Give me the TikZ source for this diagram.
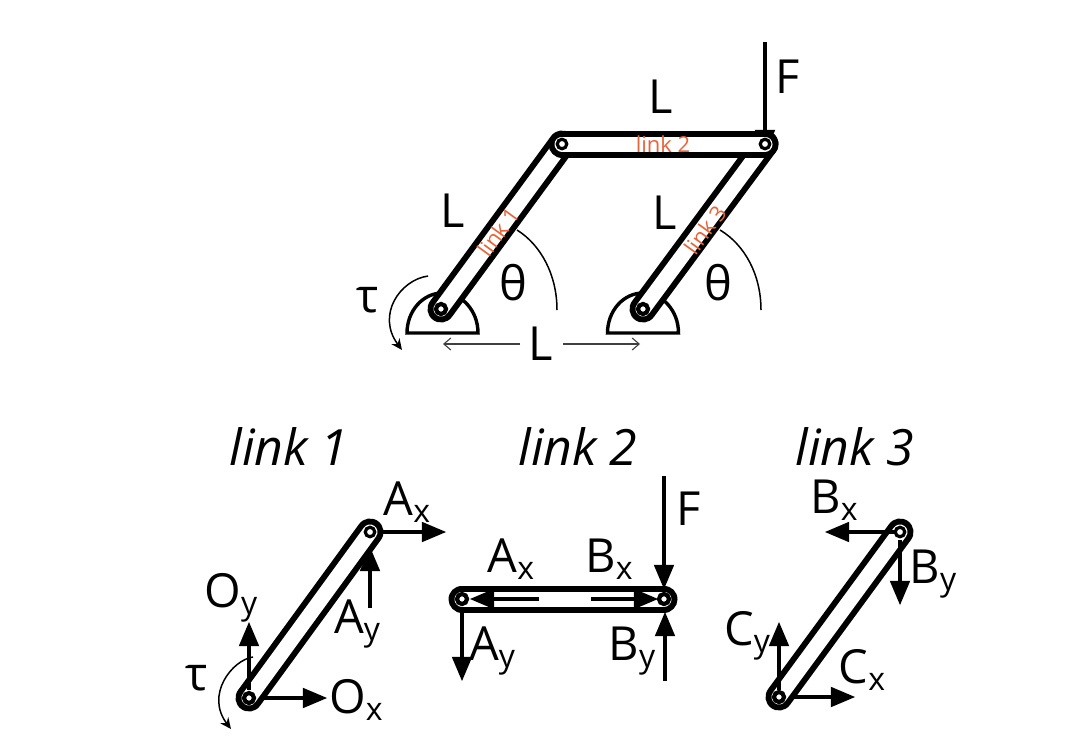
\documentclass[tikz,border=0pt]{standalone}
\usepackage{fontspec}
\setmainfont{Open Sans}
\usetikzlibrary{arrows,arrows.meta,%
                shapes,positioning}
\definecolor{linkorange}{RGB}{232,100,58}
\newcommand{\symsize}{\fontsize{47}{47}\selectfont}
\newcommand{\sublabel}[2]{#1{\fontsize{32}{32}\selectfont\raisebox{-7pt}{#2}}}
\tikzset{
  linkbar/.style={line width=6pt,double=white,double distance=15pt,line cap=round},
  pinring/.style={circle,draw=black,fill=white,line width=3.2pt,minimum size=9.5pt,inner sep=0pt},
  pinbig/.style={circle,draw=black,fill=white,line width=4.2pt,minimum size=10pt,inner sep=0pt},
  support/.style={draw=black,fill=white,line width=3.4pt},
  force/.style={line width=4.8pt,-triangle 45},
  thinarc/.style={line width=1.5pt,-{Stealth[length=11pt,width=10pt]}},
  dimline/.style={line width=1.1pt,draw=black!75,-{Straight Barb[length=7pt,width=12pt]}},
  anglearc/.style={line width=1.5pt},
  sym/.style={anchor=base,font=\symsize,inner sep=0pt},
  linkname/.style={text=linkorange,font=\fontsize{22}{22}\selectfont,inner sep=0pt},
  heading/.style={anchor=base,font=\fontsize{50}{50}\selectfont\itshape,inner sep=0pt}
}
\begin{document}
\begin{tikzpicture}[x=1pt,y=-1pt]
\useasboundingbox (0,0) rectangle (1074,750);
% assembled linkage
\coordinate (O) at (441,309);
\coordinate (A) at (562,144);
\coordinate (B) at (765,144);
\coordinate (C) at (643,309);
\coordinate (Ftop) at (765,42);
\coordinate (Fend) at (765,154);
\draw[force] (Ftop) -- (Fend);
\draw[support] (407,333) arc (180:360:35.5 and 40) -- cycle;
\draw[support] (607.5,333) arc (180:360:35.5 and 40) -- cycle;
\draw[linkbar] (O) -- (A);
\draw[linkbar] (C) -- (B);
\draw[linkbar] (A) -- (B);
\node[pinbig] (pinO) at (O) {};
\node[pinring] (pinA) at (A) {};
\node[pinring] (pinB) at (B) {};
\node[pinbig] (pinC) at (C) {};
\draw[anglearc] (557,310) .. controls (557,275) and (541,245) .. (517,230);
\draw[anglearc] (761,310) .. controls (761,275) and (745,245) .. (720,230);
\draw[thinarc] (428,276) .. controls (400,280) and (376,315) .. (402,350);
\node[sym] (lenAB) at (661,113) {L};
\node[sym] (lenOA) at (453,227) {L};
\node[sym] (lenCB) at (665,229) {L};
\node[sym] (lenOC) at (541,360) {L};
\node[sym] (forceF) at (788,93) {F};
\node[sym] (thetaO) at (513,300) {θ};
\node[sym] (thetaC) at (718,300) {θ};
\node[sym] (tauO) at (368,312) {τ};
\coordinate (dimL) at (520,344);
\coordinate (dimLe) at (443,344);
\coordinate (dimR) at (563,344);
\coordinate (dimRe) at (640,344);
\draw[dimline] (dimL) -- (dimLe);
\draw[dimline] (dimR) -- (dimRe);
\node[linkname,rotate=54] (nameA) at (498,232) {link 1};
\node[linkname] (nameB) at (663,144) {link 2};
\node[linkname,rotate=54] (nameC) at (705,230) {link 3};

% free body of link 1
\coordinate (O1) at (249,698);
\coordinate (A1) at (370,532);
\draw[linkbar] (O1) -- (A1);
\node[pinbig] (pinO1) at (O1) {};
\node[pinring] (pinA1) at (A1) {};
\coordinate (Ax1s) at (382,532);
\coordinate (Ax1e) at (446,532);
\coordinate (Ay1s) at (370,608);
\coordinate (Ay1e) at (370,547);
\coordinate (Oy1s) at (249,690);
\coordinate (Oy1e) at (249,622);
\coordinate (Ox1s) at (262,698);
\coordinate (Ox1e) at (327,698);
\draw[force] (Ax1s) -- (Ax1e);
\draw[force] (Ay1s) -- (Ay1e);
\draw[force] (Oy1s) -- (Oy1e);
\draw[force] (Ox1s) -- (Ox1e);
\draw[thinarc] (253,657) .. controls (232,660) and (205,695) .. (231,729);
\node[sym] (tau1) at (197,690) {τ};
\node[sym] (lblAx1) at (407,515) {\sublabel{A}{x}};
\node[sym] (lblAy1) at (357,633) {\sublabel{A}{y}};
\node[sym] (lblOy1) at (231,607) {\sublabel{O}{y}};
\node[sym] (lblOx1) at (356,713) {\sublabel{O}{x}};
\node[heading] (head1) at (289,465) {link 1};

% free body of link 2
\coordinate (A2) at (462,599);
\coordinate (B2) at (664,599);
\draw[linkbar] (A2) -- (B2);
\node[pinbig] (pinA2) at (A2) {};
\node[pinbig] (pinB2) at (B2) {};
\coordinate (Ax2s) at (539,599);
\coordinate (Ax2e) at (470,599);
\coordinate (Bx2s) at (591,599);
\coordinate (Bx2e) at (658,599);
\coordinate (F2s) at (664,476);
\coordinate (F2e) at (664,589);
\coordinate (Ay2s) at (462,610);
\coordinate (Ay2e) at (462,681);
\coordinate (By2s) at (665,681);
\coordinate (By2e) at (665,612);
\draw[force] (Ax2s) -- (Ax2e);
\draw[force] (Bx2s) -- (Bx2e);
\draw[force] (F2s) -- (F2e);
\draw[force] (Ay2s) -- (Ay2e);
\draw[force] (By2s) -- (By2e);
\node[sym] (lblF2) at (689,525) {F};
\node[sym] (lblAx2) at (511,572) {\sublabel{A}{x}};
\node[sym] (lblBx2) at (609,572) {\sublabel{B}{x}};
\node[sym] (lblAy2) at (492,660) {\sublabel{A}{y}};
\node[sym] (lblBy2) at (632,660) {\sublabel{B}{y}};
\node[heading] (head2) at (578,465) {link 2};

% free body of link 3
\coordinate (C3) at (779,697);
\coordinate (B3) at (900,532);
\draw[linkbar] (C3) -- (B3);
\node[pinbig] (pinC3) at (C3) {};
\node[pinring] (pinB3) at (B3) {};
\coordinate (Bx3s) at (895,532);
\coordinate (Bx3e) at (825,532);
\coordinate (By3s) at (900,540);
\coordinate (By3e) at (900,605);
\coordinate (Cy3s) at (779,690);
\coordinate (Cy3e) at (779,622);
\coordinate (Cx3s) at (792,697);
\coordinate (Cx3e) at (855,697);
\draw[force] (Bx3s) -- (Bx3e);
\draw[force] (By3s) -- (By3e);
\draw[force] (Cy3s) -- (Cy3e);
\draw[force] (Cx3s) -- (Cx3e);
\node[sym] (lblBx3) at (834,513) {\sublabel{B}{x}};
\node[sym] (lblBy3) at (933,583) {\sublabel{B}{y}};
\node[sym] (lblCy3) at (747,645) {\sublabel{C}{y}};
\node[sym] (lblCx3) at (862,683) {\sublabel{C}{x}};
\node[heading] (head3) at (855,465) {link 3};
\end{tikzpicture}
\end{document}
